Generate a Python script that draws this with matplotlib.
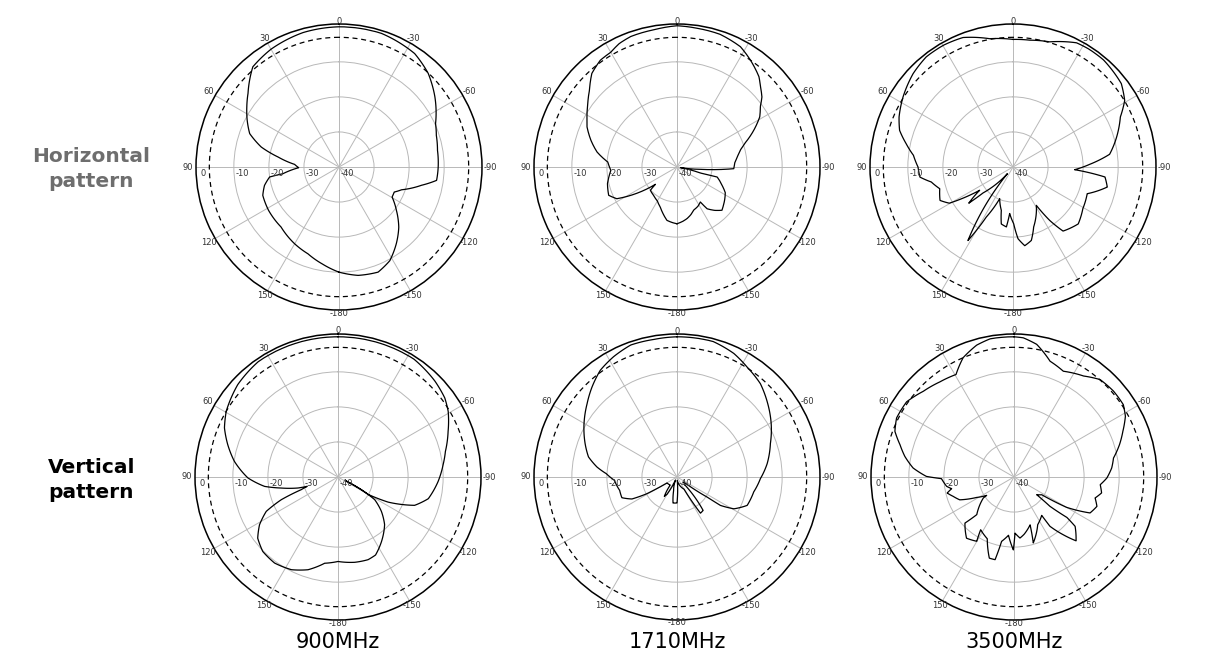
import numpy as np
import matplotlib.pyplot as plt

# radiation patterns, angle in degrees (0 = up, positive = counter-clockwise), gain in dB
h900_ang = [-180, -170, -159.6, -151.5, -143.2, -135.2, -127, -119.5, -114.4, -110, -102.5, -97.8,
            -90, -80.4, -72, -65.8, -53.8, -43.6, -33.7, -17.6, 0, 15, 30, 40.7, 51, 56.9, 63,
            69.5, 75.6, 80.7, 86.6, 91, 96.8, 98.2, 103.9, 110.4, 121.6, 136, 150, 160.3, 170.4, 180]
h900_db = [-10, -8.6, -8.0, -9.6, -12.7, -15.8, -19.5, -22.6, -22.7, -21, -15.9, -11.9,
           -11.7, -11.5, -10.8, -9.8, -6.1, -3.1, -1.1, 0, 0, -0.3, -1.2, -2.3, -6.6, -8.6, -10.6,
           -12.8, -17.1, -22.4, -27.3, -28.5, -23.9, -20, -18.1, -16.8, -16.4, -16.2, -14.7, -13.7, -11.9, -10]

h1710_ang = [-180, -174, -169, -164, -159, -152, -146.3, -144.2, -139, -133.9, -129, -125.2, -118, -112.2,
             -104, -104.4, -100, -95.7, -91.7, -86, -80.5, -75, -70.9, -64.4, -58.8, -54, -50.5, -46,
             -42.2, -34.5, -27.8, -18, -8.1, 0, 9.6, 19.5, 25, 30, 35.7, 42.3, 48.8, 55, 60.9, 66,
             72.8, 79.4, 85.9, 92.9, 98, 103.5, 112.5, 117.8, 128.7, 131.2, 140.5, 150, 157.4, 163,
             169.4, 175, 180]
h1710_db = [-23.8, -24.4, -25, -25.8, -26.8, -27.3, -28, -25.3, -23.6, -22.2, -22.9, -23.4, -24.4, -26.1,
            -28.2, -33.1, -39, -33.3, -23.8, -23.5, -22.6, -21.3, -19.6, -15.7, -12.4, -10.6, -8.6, -6.9,
            -5.2, -3, -1.2, -0.2, 0, 0.3, -0.3, -0.5, -1.1, -2.2, -2.5, -3.9, -6.8, -8.9, -10.6, -11.9,
            -14.3, -16.8, -20.2, -21.1, -20.4, -19.6, -18.9, -20.6, -32.1, -29.9, -29.5, -28.8, -27.6, -26.2,
            -24.5, -24.1, -23.8]

h3500_ang = [0, 10.3, 21.1, 29.6, 38.2, 47, 57.5, 66.3, 72.1, 77.7, 83.3, 90, 96.2, 100.4, 106.5,
             114.6, 119.6, 124.9, 129.3, 130.9, 140, 148.5, 151.9, 157.2, 164.9, 168.4, 173.7, 175.9,
             180.7, 184, 188.5, 194, 199, 211.3, 214.5, 218, 228.9, 239.2, 250.2, 258, 263.8, 267.5,
             272, 277.5, 286.2, 295, 300.8, 307.6, 319.8, 327.4, 332.9, 343.7, 352.5, 360]
h3500_db = [-3.6, -2.8, -0.4, 0, 0, -1, -2.8, -4.5, -6, -8.8, -11.4, -12.9, -13.3, -16.3, -18.2,
            -17.1, -19.1, -28.4, -23.7, -28.7, -37.5, -15.4, -23.8, -30.2, -27.2, -23.4, -22.8, -26.7,
            -23.8, -19.5, -17.3, -18.4, -21.9, -27.2, -21.5, -16.8, -15.3, -16.8, -17.5, -12.5, -13.6, -22.4,
            -18.1, -12.2, -9.2, -6.2, -2.9, -1, 0, 0, -0.2, -2.8, -3.5, -3.6]

v900_ang = [0, 12.2, 23.4, 34.7, 47.3, 59.5, 66.6, 73.6, 81.4, 90.6, 97.3, 101, 105.4, 106.9, 109,
            111.8, 115.6, 121.3, 127.3, 134.7, 143.6, 153.3, 162.1, 171.2, 180, 191.1, 200, 205.7,
            214, 224.4, 231.6, 238.3, 241.5, 244, 240, 243.4, 249.7, 256.5, 267.5, 276.7, 283.4,
            292.5, 300.8, 306.5, 314.7, 327.2, 342.3, 360]
v900_db = [0, 0, 0, 0, -1.1, -3, -4.7, -7.2, -10.1, -14.3, -18.9, -23.5, -28.2, -30.8, -28.9,
           -22.6, -17.3, -13.8, -11.2, -9.8, -9.5, -10.4, -12.2, -15.1, -15.9, -15.2, -14.9, -15.3,
           -17.8, -21, -24.2, -27.7, -32.4, -37.5, -30.1, -24, -16.7, -13.5, -11.4, -9.8, -8.5,
           -6, -3.4, -2.1, -1.1, 0, 0, 0]

v1710_ang = [0, 9.5, 19.3, 27.8, 35.7, 43.4, 50.8, 60.1, 70, 77.2, 82.9, 87.3, 93, 103.1, 110.6, 116,
             119, 121, 140, 146.8, 150, 155, 166, 171.3, 180, 185, 210, 213, 218, 225, 233.1, 236.3,
             236.8, 240.8, 248, 259, 268.9, 278.4, 289.7, 299.6, 309, 318.2, 327.5, 335.3, 345, 353.2, 360]
v1710_db = [0, -0.2, -0.1, -1.2, -2.5, -4.7, -6.9, -9.4, -12.1, -14.1, -17, -19.8, -22.1, -23.2, -23.2, -25.7,
            -30.2, -36.7, -37, -33.4, -34.3, -39, -36, -32.5, -32.6, -39, -36, -27.7, -27.9, -37, -37.6, -29.7,
            -25.2, -21.4, -18.4, -17.7, -16.2, -14, -11.7, -9.1, -6.7, -4.3, -2.8, -1.2, 0, 0, 0]

v3500_ang = [0, 9.8, 15.8, 23.1, 29.5, 37.9, 46.6, 55, 63.3, 69, 74.2, 79.3, 84.9, 89.6, 91.3, 97.9,
             100.6, 103.5, 107.7, 112.8, 118.6, 123.9, 124.4, 135.3, 133.2, 142.2, 149.9, 147.7, 156.6,
             163.1, 167.1, 169.1, 174.6, 179.5, 181, 185.6, 190, 198.6, 196.3, 206.4, 215.8, 216.1,
             220.5, 224.2, 231.1, 232.6, 230.8, 232.1, 237.4, 240, 244.7, 250.5, 255.5, 259.7, 264.9,
             269.4, 275.3, 280.8, 287.1, 292.8, 298.6, 303.5, 310.8, 318.5, 325.4, 335, 342.7, 350.3,
             356.2, 360]
v3500_db = [0, 0, -0.9, -3, -6.4, -5.6, -4.4, -2.6, -2.5, -3.6, -6.2, -8.3, -11.1, -15, -19.3, -20.6,
            -21.9, -20.4, -21.8, -23.2, -27.8, -30.6, -29.4, -24.9, -20.8, -17.9, -18.8, -22.2, -20.8,
            -15.8, -15.8, -21.3, -23.3, -19.2, -24, -22.5, -23.4, -25.6, -20.4, -24.8, -26.5, -22.6,
            -18.3, -14.6, -17.6, -21, -26.8, -31.8, -30.6, -22.7, -16, -14.9, -16.1, -14.6, -15.3,
            -13.5, -12, -11.1, -8.5, -6.3, -3.8, -2.6, -2.5, -2.9, -5, -6.7, -5.4, -1.6,
            -0.2, 0]

patterns = [(h900_ang, h900_db), (h1710_ang, h1710_db), (h3500_ang, h3500_db),
            (v900_ang, v900_db), (v1710_ang, v1710_db), (v3500_ang, v3500_db)]

angle_ticks = [0, 30, 60, 90, 120, 150, 180, 210, 240, 270, 300, 330]
angle_labels = ['0', '30', '60', '90', '120', '150', '-180', '-150', '-120', '-90', '-60', '-30']
ring_values = [0, -10, -20, -30, -40]
freq_labels = ['900MHz', '1710MHz', '3500MHz']

W, H = 1211, 670
R = 143
RMIN, RMAX = -40, 0.8
centers = [(339, 167), (677, 167), (1013, 167), (338, 477), (677, 477), (1014, 477)]

fig = plt.figure(figsize=(W / 100, H / 100), dpi=100)

for (cx, cy), (ang, db) in zip(centers, patterns):
    ax = fig.add_axes([(cx - R) / W, (H - cy - R) / H, 2 * R / W, 2 * R / H], projection='polar')
    ax.set_theta_zero_location('N')
    ax.set_theta_direction(1)
    ax.set_rlim(RMIN, RMAX)
    ax.set_xticks(np.deg2rad(angle_ticks))
    ax.set_xticklabels([])
    ax.set_yticks([-30, -20, -10])
    ax.set_yticklabels([])
    ax.grid(True, color='#b8b8b8', lw=0.7)
    ax.spines['polar'].set_color('black')
    ax.spines['polar'].set_linewidth(1.1)

    circ = np.linspace(0, 2 * np.pi, 361)
    ax.plot(circ, np.full_like(circ, -3.0), color='black', lw=0.9, ls=(0, (4, 3)))

    th = np.unwrap(np.deg2rad(ang))
    ln, = ax.plot(th, db, color='black', lw=0.9)
    # let the polar transform draw each segment as a spiral arc instead of a chord
    ln.get_path()._interpolation_steps = 24

    for t, lab in zip(angle_ticks, angle_labels):
        rp = 146 + 5 * abs(np.sin(np.deg2rad(t)))
        rd = RMIN + rp / R * (RMAX - RMIN)
        ax.text(np.deg2rad(t), rd, lab, ha='center', va='center', fontsize=6,
                color='#333333', clip_on=False)
    for v in ring_values:
        ax.annotate(str(v), xy=(np.pi / 2, v), xytext=(1, -1.5), textcoords='offset points',
                    ha='left', va='top', fontsize=6, color='#333333')

fig.text(91.5 / W, 1 - 162 / H, 'Horizontal', ha='center', va='baseline',
         fontsize=14.5, fontweight='bold', color='#6e6e6e')
fig.text(91.5 / W, 1 - 187 / H, 'pattern', ha='center', va='baseline',
         fontsize=14.5, fontweight='bold', color='#6e6e6e')
fig.text(91.5 / W, 1 - 473 / H, 'Vertical', ha='center', va='baseline',
         fontsize=14.5, fontweight='bold', color='black')
fig.text(91.5 / W, 1 - 498 / H, 'pattern', ha='center', va='baseline',
         fontsize=14.5, fontweight='bold', color='black')

for (cx, cy), lab in zip(centers[3:], freq_labels):
    fig.text(cx / W, 1 - 648 / H, lab, ha='center', va='baseline', fontsize=15, color='black')

fig.savefig('out.png', dpi=100)
